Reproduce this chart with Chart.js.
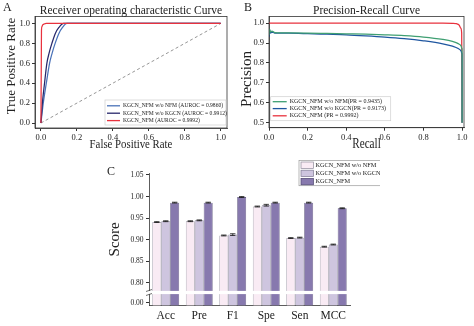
<!DOCTYPE html>
<html>
<head>
<meta charset="utf-8">
<script src="https://cdn.jsdelivr.net/npm/chart.js@4/dist/chart.umd.min.js"></script>
<style>
  body { margin: 0; background: #fff; }
  #fig { position: relative; width: 474px; height: 326px; overflow: hidden; background: #fff; }
  #fig canvas { position: absolute; }
</style>
</head>
<body>
<div id="fig">
  <canvas id="roc" width="235" height="152" style="left:0;top:0"></canvas>
  <canvas id="pr" width="240" height="152" style="left:234px;top:0"></canvas>
  <canvas id="bars" width="280" height="168" style="left:100px;top:158px"></canvas>
</div>
<script>
// ROC curves: false positive rate / true positive rate
const rocFprNoNfm  = [0, 0.013, 0.03, 0.048, 0.062, 0.079, 0.10, 0.12, 0.144, 1];
const rocTprNoNfm  = [0, 0.20, 0.40, 0.60, 0.70, 0.80, 0.90, 0.96, 1.00, 1.00];
const rocFprNoKgcn = [0, 0.008, 0.02, 0.033, 0.045, 0.061, 0.08, 0.10, 0.126, 1];
const rocTprNoKgcn = [0, 0.20, 0.40, 0.60, 0.70, 0.80, 0.90, 0.96, 1.00, 1.00];
const rocFprFull   = [0, 0.002, 0.003, 0.005, 0.01, 0.018, 0.03, 1];
const rocTprFull   = [0, 0.60, 0.93, 0.965, 0.985, 0.995, 1.00, 1.00];
const rocLabels = ['KGCN_NFM w/o NFM (AUROC = 0.9860)', 'KGCN_NFM w/o KGCN (AUROC = 0.9912)', 'KGCN_NFM (AUROC = 0.9992)'];
const rocTicks = [0, 0.2, 0.4, 0.6, 0.8, 1.0];

// precision-recall curves
const prRecall      = [0, 0.003, 0.008, 0.015, 0.03, 0.06, 0.10, 0.20, 0.30, 0.40, 0.50, 0.60, 0.70, 0.80, 0.90, 0.95, 0.98, 0.995, 1.0, 1.0];
const prPrecNoNfm   = [0.94, 0.97, 0.955, 0.96, 0.952, 0.951, 0.951, 0.950, 0.948, 0.946, 0.944, 0.941, 0.937, 0.930, 0.918, 0.908, 0.897, 0.885, 0.87, 0.50];
const prPrecNoKgcn  = [0.93, 0.965, 0.95, 0.955, 0.950, 0.949, 0.949, 0.947, 0.944, 0.941, 0.936, 0.930, 0.922, 0.911, 0.896, 0.884, 0.872, 0.860, 0.845, 0.50];
const prRecallFull  = [0, 0.90, 0.95, 0.97, 0.985, 0.993, 0.998, 1.0];
const prPrecFull    = [1.0, 1.0, 0.999, 0.997, 0.99, 0.975, 0.95, 0.50];
const prLabels = ['KGCN_NFM w/o NFM(PR = 0.9435)', 'KGCN_NFM w/o KGCN(PR = 0.9173)', 'KGCN_NFM (PR = 0.9992)'];
const prXTicks = [0, 0.2, 0.4, 0.6, 0.8, 1.0];
const prYTicks = [0.5, 0.6, 0.7, 0.8, 0.9, 1.0];

// metric scores
const metrics     = ['Acc', 'Pre', 'F1', 'Spe', 'Sen', 'MCC'];
const scoreNoNfm  = [0.941, 0.943, 0.910, 0.977, 0.904, 0.884];
const scoreNoKgcn = [0.943, 0.945, 0.912, 0.980, 0.905, 0.889];
const scoreFull   = [0.986, 0.986, 0.999, 0.986, 0.986, 0.973];
const errNoNfm    = [0.001, 0.001, 0.001, 0.001, 0.001, 0.001];
const errNoKgcn   = [0.001, 0.001, 0.002, 0.002, 0.001, 0.001];
const errFull     = [0.001, 0.001, 0.001, 0.001, 0.001, 0.001];
const barLabels   = ['KGCN_NFM w/o NFM', 'KGCN_NFM w/o KGCN', 'KGCN_NFM'];
const upperTicks  = [0.80, 0.85, 0.90, 0.95, 1.00, 1.05];
const lowerTicks  = [0.00, 0.05];

const serif = "'Liberation Serif', 'Times New Roman', serif";
const ink = '#222';

function points(xs, ys) {
  return xs.map((x, i) => ({x: x, y: ys[i]}));
}

function fixedTicks(values) {
  return scale => { scale.ticks = values.map(v => ({value: v})); };
}

// panel letter in the top-left corner
function letter(text, x, y) {
  return {
    id: 'letter',
    afterDraw(chart) {
      const ctx = chart.ctx;
      ctx.save();
      ctx.font = '12px ' + serif;
      ctx.fillStyle = ink;
      ctx.textBaseline = 'middle';
      ctx.fillText(text, x, y);
      ctx.restore();
    }
  };
}

// axis captions; the x caption is set in a narrow (horizontally squeezed) face
function captions(xText, xSize, xSqueeze, xY, yText, ySize, yX, yY) {
  return {
    id: 'captions',
    afterDraw(chart) {
      const ctx = chart.ctx;
      const a = chart.chartArea;
      ctx.save();
      ctx.fillStyle = ink;
      ctx.textAlign = 'center';
      ctx.textBaseline = 'middle';
      ctx.save();
      ctx.translate((a.left + a.right) / 2, xY);
      ctx.scale(xSqueeze, 1);
      ctx.font = xSize + 'px ' + serif;
      ctx.fillText(xText, 0, 0);
      ctx.restore();
      ctx.translate(yX, yY);
      ctx.rotate(-Math.PI / 2);
      ctx.font = ySize + 'px ' + serif;
      ctx.fillText(yText, 0, 0);
      ctx.restore();
    }
  };
}

// closed box around the plot area
const frame = {
  id: 'frame',
  afterDatasetsDraw(chart) {
    const {ctx, chartArea: a} = chart;
    ctx.save();
    ctx.strokeStyle = '#333';
    ctx.lineWidth = 0.8;
    ctx.strokeRect(a.left, a.top, a.right - a.left, a.bottom - a.top);
    ctx.restore();
  }
};

// legend with line samples placed inside the plot
function lineLegend(box) {
  return {
    id: 'lineLegend',
    afterDraw(chart) {
      const ctx = chart.ctx;
      ctx.save();
      ctx.fillStyle = 'rgba(255,255,255,0.9)';
      ctx.strokeStyle = '#cfcfcf';
      ctx.lineWidth = 0.7;
      ctx.fillRect(box.x, box.y, box.w, box.h);
      ctx.strokeRect(box.x, box.y, box.w, box.h);
      ctx.font = box.font + 'px ' + serif;
      ctx.textBaseline = 'middle';
      let row = 0;
      chart.data.datasets.forEach(ds => {
        if (!ds.label) return;
        const y = box.rows[row++];
        ctx.strokeStyle = ds.borderColor;
        ctx.lineWidth = 1.3;
        ctx.beginPath();
        ctx.moveTo(box.x + 2, y);
        ctx.lineTo(box.x + 2 + box.sample, y);
        ctx.stroke();
        ctx.fillStyle = ink;
        ctx.fillText(ds.label, box.x + 5 + box.sample, y);
      });
      ctx.restore();
    }
  };
}

function curve(label, data, color, order) {
  return {
    label: label, data: data, borderColor: color, backgroundColor: color,
    borderWidth: 1.25, pointRadius: 0, showLine: true, order: order,
    cubicInterpolationMode: 'monotone'
  };
}

function axis(min, max, ticks, fit) {
  return {
    type: 'linear', min: min, max: max,
    afterBuildTicks: fixedTicks(ticks),
    afterFit: fit,
    grid: {drawOnChartArea: false, drawTicks: true, tickLength: 3, color: '#333'},
    border: {color: '#333', width: 0.8},
    ticks: {font: {family: serif, size: 8.5}, color: ink, padding: 2, callback: v => v.toFixed(1)}
  };
}

function heading(text) {
  return {display: true, text: text, fullSize: false,
          font: {family: serif, size: 11.5, weight: 'normal', lineHeight: 1}, color: ink,
          padding: {top: 5, bottom: 0}};
}

Chart.defaults.animation = false;
Chart.defaults.font.family = serif;

// A: ROC curves
new Chart(document.getElementById('roc'), {
  type: 'scatter',
  data: {
    datasets: [
      curve(rocLabels[0], points(rocFprNoNfm, rocTprNoNfm), '#4a72b8', 2),
      curve(rocLabels[1], points(rocFprNoKgcn, rocTprNoKgcn), '#27286b', 1),
      curve(rocLabels[2], points(rocFprFull, rocTprFull), '#e8323e', 0),
      {data: points([0, 1], [0, 1]), borderColor: '#8a8a8a', borderWidth: 0.9, borderDash: [3, 2.5],
       pointRadius: 0, showLine: true, order: 3}
    ]
  },
  options: {
    responsive: false,
    layout: {padding: {left: 0, right: 8, top: 0, bottom: 0}},
    scales: {
      x: axis(-0.033, 1.035, rocTicks, s => { s.height = 24; }),
      y: axis(-0.05, 1.07, rocTicks, s => { s.width = 35; })
    },
    plugins: {
      legend: {display: false},
      tooltip: {enabled: false},
      title: heading('Receiver operating characteristic Curve')
    }
  },
  plugins: [frame, letter('A', 3, 8),
    captions('False Positive Rate', 13.5, 0.8, 144.5, 'True Positive Rate', 13, 11.5, 66),
    lineLegend({x: 105, y: 100, w: 121, h: 25, font: 5.6, sample: 13, rows: [105.8, 113.2, 120.6]})]
});

// B: precision-recall curves
new Chart(document.getElementById('pr'), {
  type: 'scatter',
  data: {
    datasets: [
      curve(prLabels[0], points(prRecall, prPrecNoNfm), '#3f9f72', 0),
      curve(prLabels[1], points(prRecall, prPrecNoKgcn), '#1f56a0', 1),
      curve(prLabels[2], points(prRecallFull, prPrecFull), '#e8323e', 2)
    ]
  },
  options: {
    responsive: false,
    layout: {padding: {left: 0, right: 10, top: 0, bottom: 0}},
    scales: {
      x: axis(0, 1.01, prXTicks, s => { s.height = 24.3; }),
      y: axis(0.475, 1.033, prYTicks, s => { s.width = 35; })
    },
    plugins: {
      legend: {display: false},
      tooltip: {enabled: false},
      title: heading('Precision-Recall Curve')
    }
  },
  plugins: [frame, letter('B', 10, 8),
    captions('Recall', 14, 0.8, 144, 'Precision', 15, 13, 79),
    lineLegend({x: 36.7, y: 96.7, w: 120, h: 24, font: 6, sample: 14, rows: [101.7, 108.6, 115.8]})]
});

// C: grouped bars on a broken score axis
const barColors = ['#f9ebf4', '#cec5df', '#8779ae'];
const barEdges  = ['#8e8a99', '#7f7a92', '#4e4670'];
const barSeries = [scoreNoNfm, scoreNoKgcn, scoreFull];
const barErrors = [errNoNfm, errNoKgcn, errFull];
const LOWER_MIN = -0.034;

const barSets = [];
barSeries.forEach((vals, i) => {
  barSets.push({label: barLabels[i], data: vals, yAxisID: 'y', stack: 's' + i,
    backgroundColor: barColors[i], borderColor: barEdges[i], borderWidth: 0.7});
});
barSeries.forEach((vals, i) => {
  barSets.push({label: '', data: vals, yAxisID: 'y2', stack: 's' + i, base: LOWER_MIN,
    backgroundColor: barColors[i], borderColor: barEdges[i], borderWidth: 0.7});
});

// keep each bar inside the band of its own value axis
const axisClip = {
  id: 'axisClip',
  beforeDatasetDraw(chart, args) {
    const ys = chart.scales[args.meta.yAxisID];
    const a = chart.chartArea;
    chart.ctx.save();
    chart.ctx.beginPath();
    chart.ctx.rect(a.left, ys.top, a.right - a.left, ys.bottom - ys.top);
    chart.ctx.clip();
  },
  afterDatasetDraw(chart) {
    chart.ctx.restore();
  }
};

const errorBars = {
  id: 'errorBars',
  afterDatasetsDraw(chart) {
    const ctx = chart.ctx;
    const ys = chart.scales.y;
    ctx.save();
    ctx.strokeStyle = '#111';
    ctx.lineWidth = 0.8;
    barErrors.forEach((errs, i) => {
      chart.getDatasetMeta(i).data.forEach((bar, j) => {
        const v = barSeries[i][j];
        const y0 = ys.getPixelForValue(v - errs[j]);
        const y1 = ys.getPixelForValue(v + errs[j]);
        const hw = bar.width * 0.3;
        ctx.beginPath();
        ctx.moveTo(bar.x, y0); ctx.lineTo(bar.x, y1);
        ctx.moveTo(bar.x - hw, y0); ctx.lineTo(bar.x + hw, y0);
        ctx.moveTo(bar.x - hw, y1); ctx.lineTo(bar.x + hw, y1);
        ctx.stroke();
      });
    });
    ctx.restore();
  }
};

// white gap and slash marks where the score axis is broken
const axisBreak = {
  id: 'axisBreak',
  afterDraw(chart) {
    const ctx = chart.ctx;
    const a = chart.chartArea;
    const b = chart.scales.y.bottom;
    ctx.save();
    ctx.fillStyle = '#fff';
    ctx.fillRect(a.left - 4, b - 1.6, a.right - a.left + 4, 3.2);
    ctx.strokeStyle = '#333';
    ctx.lineWidth = 0.7;
    ctx.beginPath();
    ctx.moveTo(a.left - 3, b - 1); ctx.lineTo(a.left + 3, b - 3);
    ctx.moveTo(a.left - 3, b + 3); ctx.lineTo(a.left + 3, b + 1);
    ctx.stroke();
    ctx.restore();
  }
};

const barLegend = {
  id: 'barLegend',
  afterDraw(chart) {
    const ctx = chart.ctx;
    const x = 199, rows = [7.2, 15.4, 23.6];
    ctx.save();
    ctx.strokeStyle = '#9a9a9a';
    ctx.lineWidth = 0.7;
    ctx.strokeRect(x, 2.5, 120, 25.2);
    ctx.font = '6.3px ' + serif;
    ctx.textBaseline = 'middle';
    barLabels.forEach((label, i) => {
      ctx.fillStyle = barColors[i];
      ctx.fillRect(x + 2, rows[i] - 3.2, 12.5, 6.4);
      ctx.strokeStyle = barEdges[i];
      ctx.strokeRect(x + 2, rows[i] - 3.2, 12.5, 6.4);
      ctx.fillStyle = ink;
      ctx.fillText(label, x + 16.5, rows[i]);
    });
    ctx.restore();
  }
};

const scoreTitle = {
  id: 'scoreTitle',
  afterDraw(chart) {
    const ctx = chart.ctx;
    const a = chart.chartArea;
    ctx.save();
    ctx.translate(15, (a.top + a.bottom) / 2);
    ctx.rotate(-Math.PI / 2);
    ctx.font = '15px ' + serif;
    ctx.fillStyle = ink;
    ctx.textAlign = 'center';
    ctx.textBaseline = 'middle';
    ctx.fillText('Score', 0, 0);
    ctx.restore();
  }
};

function scoreAxis(min, max, ticks, weight, order) {
  return {
    type: 'linear', position: 'left', stack: 'score', stackWeight: weight, weight: order,
    min: min, max: max, stacked: false,
    afterBuildTicks: fixedTicks(ticks),
    afterFit: s => { s.width = 49; },
    grid: {drawOnChartArea: false, drawTicks: true, tickLength: 3, color: '#333'},
    border: {color: '#333', width: 0.8},
    ticks: {font: {family: serif, size: 7.5}, color: ink, padding: 2.5, callback: v => v.toFixed(2)}
  };
}

new Chart(document.getElementById('bars'), {
  type: 'bar',
  data: {labels: metrics, datasets: barSets},
  options: {
    responsive: false,
    layout: {padding: {left: 0, right: 30, top: 15, bottom: 0}},
    datasets: {bar: {barPercentage: 1.0, categoryPercentage: 0.8}},
    scales: {
      x: {
        stacked: true,
        afterFit: s => { s.height = 20.3; },
        grid: {display: false, drawTicks: false},
        border: {color: '#333', width: 0.8},
        ticks: {font: {family: serif, size: 11.5}, color: ink, padding: 3.5}
      },
      y: scoreAxis(0.778, 1.0546, upperTicks, 9.05, 1),
      y2: scoreAxis(LOWER_MIN, 0.116, lowerTicks, 1, 0)
    },
    plugins: {legend: {display: false}, tooltip: {enabled: false}}
  },
  plugins: [axisClip, errorBars, axisBreak, barLegend, scoreTitle, letter('C', 7, 14)]
});
</script>
</body>
</html>
